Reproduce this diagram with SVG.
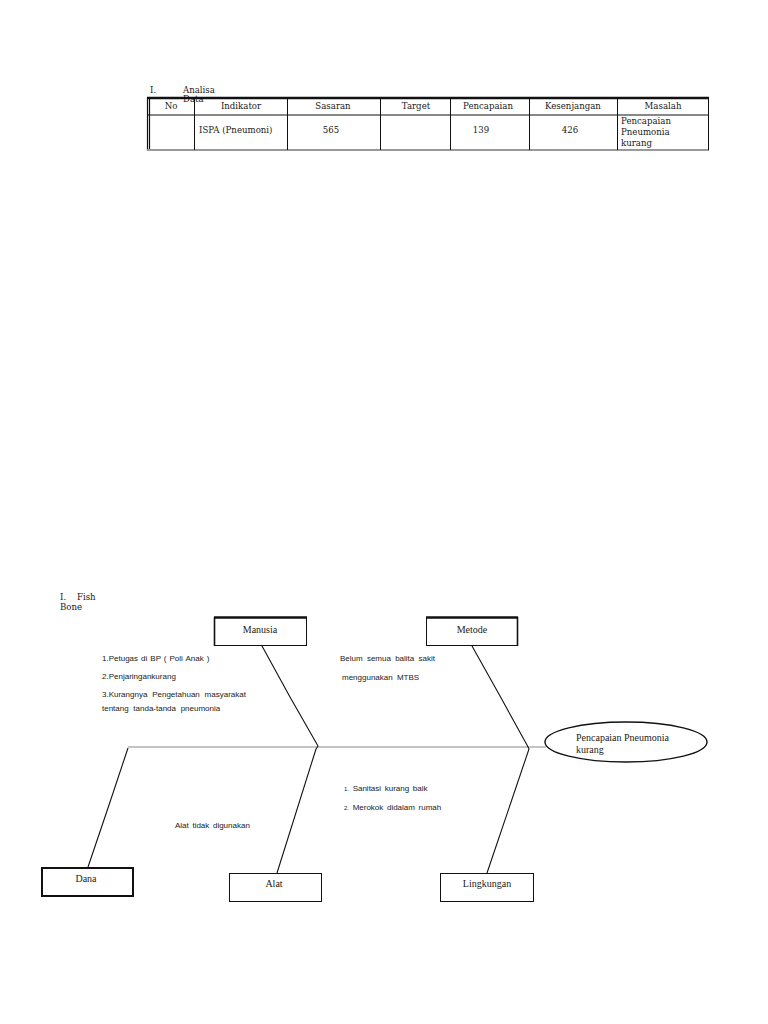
<svg xmlns="http://www.w3.org/2000/svg" width="768" height="1024" viewBox="0 0 768 1024">
<style>
.ser{font-family:"DejaVu Serif","Noto Serif",serif;font-size:8.6px;fill:#1a1a1a}
.tm{font-family:"Liberation Serif","Times New Roman",serif;font-size:10px;fill:#222}
.sans{font-family:"Liberation Sans",Arial,sans-serif;font-size:8px;fill:#222}
.thin{stroke:#111;stroke-width:1;fill:none}
.bone{stroke:#111;stroke-width:1.1;fill:none;stroke-linejoin:round}
.box{fill:#fff;stroke:#111;stroke-width:1}
.boxb{fill:#fff;stroke:#111;stroke-width:2}
</style>
<rect width="768" height="1024" fill="#fff"/>

<g id="table-title">
<text class="ser" x="150" y="93">I.</text>
<text class="ser" x="183" y="93">Analisa</text>
<text class="ser" x="183" y="102">Data</text>
</g>

<g id="table">
<line x1="147" y1="98" x2="709" y2="98" stroke="#111" stroke-width="2.5"/>
<line x1="147.5" y1="97" x2="147.5" y2="151" stroke="#111" stroke-width="1.2"/>
<line x1="149.5" y1="97" x2="149.5" y2="151" stroke="#111" stroke-width="1.2"/>
<line x1="147" y1="115" x2="709" y2="115" class="thin"/>
<line x1="147" y1="150" x2="709" y2="150" stroke="#999" stroke-width="2"/>
<line x1="194.5" y1="98" x2="194.5" y2="150" class="thin"/>
<line x1="287.5" y1="98" x2="287.5" y2="150" class="thin"/>
<line x1="380.5" y1="98" x2="380.5" y2="150" class="thin"/>
<line x1="450.5" y1="98" x2="450.5" y2="150" class="thin"/>
<line x1="529.5" y1="98" x2="529.5" y2="150" class="thin"/>
<line x1="617.5" y1="98" x2="617.5" y2="150" class="thin"/>
<line x1="708.5" y1="98" x2="708.5" y2="150" class="thin"/>
<text class="ser" x="171" y="109" text-anchor="middle">No</text>
<text class="ser" x="241" y="109" text-anchor="middle">Indikator</text>
<text class="ser" x="333" y="109" text-anchor="middle">Sasaran</text>
<text class="ser" x="416" y="109" text-anchor="middle">Target</text>
<text class="ser" x="488" y="109" text-anchor="middle">Pencapaian</text>
<text class="ser" x="573" y="109" text-anchor="middle">Kesenjangan</text>
<text class="ser" x="663" y="109" text-anchor="middle">Masalah</text>
<text class="ser" x="199" y="133">ISPA (Pneumoni)</text>
<text class="ser" x="331" y="133" text-anchor="middle">565</text>
<text class="ser" x="481" y="133" text-anchor="middle">139</text>
<text class="ser" x="570" y="133" text-anchor="middle">426</text>
<text class="ser" x="621" y="124">Pencapaian</text>
<text class="ser" x="621" y="135">Pneumonia</text>
<text class="ser" x="621" y="146">kurang</text>
</g>

<g id="fishbone-title">
<text class="ser" x="60" y="600">I.</text>
<text class="ser" x="77" y="600">Fish</text>
<text class="ser" x="60" y="610">Bone</text>
</g>

<g id="connectors">
<line x1="128" y1="747" x2="546" y2="747" stroke="#888" stroke-width="1"/>
<polyline class="bone" points="262,646 290,697 318,746 316,749 277,873"/>
<polyline class="bone" points="472,646 500,696 527,745 529,749 487,873"/>
<polyline class="bone" points="128,748 108,808 88,867"/>
</g>

<g id="manusia">
<rect class="box" x="214.5" y="617.5" width="92" height="28"/>
<line x1="214" y1="617.5" x2="307" y2="617.5" stroke="#111" stroke-width="2.5"/>
<line x1="214.5" y1="617" x2="214.5" y2="646" stroke="#111" stroke-width="1.6"/>
<text class="tm" x="260" y="633" text-anchor="middle" font-size="9.5">Manusia</text>
</g>

<g id="metode">
<rect class="box" x="426.5" y="617.5" width="91" height="28"/>
<line x1="426" y1="617.5" x2="518" y2="617.5" stroke="#111" stroke-width="2.5"/>
<line x1="517.5" y1="617" x2="517.5" y2="646" stroke="#111" stroke-width="1.6"/>
<text class="tm" x="472" y="633" text-anchor="middle" font-size="9.5">Metode</text>
</g>

<g id="effect">
<ellipse cx="626" cy="742" rx="81" ry="20" fill="#fff" stroke="#111" stroke-width="1.4"/>
<text class="tm" x="576" y="741" font-size="9.5">Pencapaian Pneumonia</text>
<text class="tm" x="576" y="753" font-size="9.5">kurang</text>
</g>

<g id="dana">
<rect class="boxb" x="42" y="868" width="91" height="28"/>
<text class="tm" x="86" y="882" text-anchor="middle" font-size="9.5">Dana</text>
</g>

<g id="alat">
<rect class="box" x="229.5" y="873.5" width="92" height="28"/>
<text class="tm" x="274" y="887" text-anchor="middle" font-size="9.5">Alat</text>
</g>

<g id="lingkungan">
<rect class="box" x="440.5" y="873.5" width="93" height="28"/>
<text class="tm" x="487" y="887" text-anchor="middle">Lingkungan</text>
</g>

<g id="cause-texts">
<text class="sans" x="102" y="661" word-spacing="0.8">1.Petugas di BP ( Poli Anak )</text>
<text class="sans" x="102" y="679">2.Penjaringankurang</text>
<text class="sans" x="102" y="697" word-spacing="2.6">3.Kurangnya Pengetahuan masyarakat</text>
<text class="sans" x="102" y="711" word-spacing="2.4">tentang tanda-tanda pneumonia</text>
<text class="sans" x="340" y="661" word-spacing="2">Belum semua balita sakit</text>
<text class="sans" x="342" y="680" word-spacing="2">menggunakan MTBS</text>
<text class="sans" x="344" y="791" word-spacing="1.4"><tspan font-size="6">1.</tspan> Sanitasi kurang baik</text>
<text class="sans" x="344" y="810" word-spacing="1.4"><tspan font-size="6">2.</tspan> Merokok didalam rumah</text>
<text class="sans" x="175" y="828" word-spacing="1.4">Alat tidak digunakan</text>
</g>
</svg>
